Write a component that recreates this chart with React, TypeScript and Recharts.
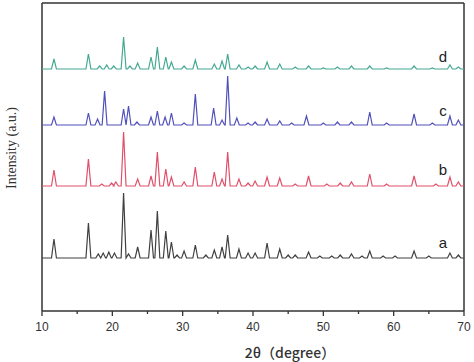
import { LineChart, Line, XAxis, YAxis, ReferenceLine, ReferenceDot } from 'recharts';

// XRD patterns: [2θ, peak height], heights above each trace's baseline
const peaksA = [
  [11.7, 19], [16.6, 35], [18.0, 4], [18.7, 5], [19.5, 6], [20.3, 5], [21.6, 65], [22.3, 4],
  [23.6, 11], [25.5, 28], [26.4, 47], [27.6, 27], [28.4, 16], [29.2, 3], [30.2, 7], [31.8, 13],
  [33.3, 3], [34.5, 8], [35.6, 11], [36.4, 23], [38.0, 9], [39.3, 5], [40.3, 5], [42.0, 15],
  [43.8, 9], [45.0, 3], [46.0, 3], [47.9, 6], [49.5, 2], [51.2, 2], [52.4, 3], [54.0, 4],
  [55.5, 2], [56.6, 7], [58.5, 2], [60.2, 2], [62.9, 7], [65.0, 2], [68.0, 5], [69.2, 3],
];
const peaksB = [
  [11.7, 16], [16.6, 27], [18.5, 2], [19.9, 3], [20.5, 4], [21.6, 54], [23.6, 7], [25.5, 10],
  [26.4, 34], [27.6, 17], [28.4, 9], [30.2, 4], [31.8, 19], [34.5, 14], [35.6, 7], [36.4, 34],
  [38.0, 7], [39.3, 3], [40.3, 5], [42.0, 9], [43.8, 8], [46.0, 2], [47.9, 10], [50.5, 2],
  [52.4, 3], [54.0, 4], [56.6, 12], [59.0, 2], [62.9, 10], [66.0, 2], [68.0, 9], [69.2, 4],
];
const peaksC = [
  [11.7, 8], [16.6, 12], [17.9, 6], [18.9, 34], [21.6, 16], [22.3, 19], [23.5, 3], [25.5, 8],
  [26.4, 14], [27.5, 8], [28.4, 12], [30.2, 2], [31.8, 31], [34.4, 17], [35.6, 5], [36.4, 49],
  [37.7, 7], [39.3, 2], [40.3, 3], [42.0, 6], [43.8, 4], [45.5, 2], [47.6, 9], [50.0, 2],
  [52.0, 3], [54.0, 3], [56.6, 13], [59.0, 2], [62.9, 11], [65.5, 2], [68.0, 9], [69.2, 5],
];
const peaksD = [
  [11.7, 10], [16.6, 15], [18.2, 3], [19.2, 4], [20.2, 3], [21.6, 32], [22.5, 3], [23.6, 6],
  [25.5, 12], [26.4, 22], [27.6, 12], [28.4, 7], [30.2, 3], [31.8, 9], [34.5, 5], [35.6, 8],
  [36.4, 15], [38.0, 4], [39.3, 2], [40.3, 3], [42.0, 7], [43.8, 5], [46.0, 2], [47.9, 3],
  [50.0, 1], [52.0, 2], [54.0, 3], [56.6, 3], [59.0, 1], [62.9, 3], [65.5, 1], [68.0, 4], [69.2, 2],
];

// vertical offsets used to stack the patterns
const baseA = 53;
const baseB = 125;
const baseC = 186;
const baseD = 242;

const xTicks = [10, 15, 20, 25, 30, 35, 40, 45, 50, 55, 60, 65, 70];
const HALF = 0.35;

function trace(peaks: number[][], base: number) {
  const pts = [{ x: 10, y: base }];
  peaks.forEach(([p, h]) => {
    pts.push({ x: p - HALF, y: base }, { x: p, y: base + h }, { x: p + HALF, y: base });
  });
  pts.push({ x: 70, y: base });
  return pts;
}

const series = [
  { name: 'a', data: trace(peaksA, baseA), color: '#404040', label: 68 },
  { name: 'b', data: trace(peaksB, baseB), color: '#e0506a', label: 141 },
  { name: 'c', data: trace(peaksC, baseC), color: '#5050bc', label: 200 },
  { name: 'd', data: trace(peaksD, baseD), color: '#45a892', label: 254 },
];

const XTick = (props: any) => {
  const { x, y, payload } = props;
  const major = payload.value % 10 === 0;
  return (
    <g>
      <line x1={x} x2={x} y1={y} y2={y + (major ? 5 : 3)} stroke="#333" strokeWidth={1.3} />
      {major && (
        <text x={x} y={y + 20} textAnchor="middle" fontSize={12} fill="#333" fontFamily="Liberation Sans, Arial">
          {payload.value}
        </text>
      )}
    </g>
  );
};

export default function App() {
  return (
    <div style={{ position: 'absolute', left: 0, top: 0, width: 474, height: 362, background: '#fff' }}>
      <LineChart width={474} height={362} margin={{ top: 3, right: 10, bottom: 21, left: 42 }}>
        <XAxis
          dataKey="x"
          type="number"
          domain={[10, 70]}
          ticks={xTicks}
          tick={<XTick />}
          tickLine={false}
          tickSize={0}
          tickMargin={0}
          height={30}
          allowDataOverflow
          axisLine={{ stroke: '#333', strokeWidth: 1.5 }}
        />
        <YAxis type="number" domain={[0, 308]} hide allowDataOverflow />
        <ReferenceLine x={10} stroke="#333" strokeWidth={1.5} />
        <ReferenceLine x={70} stroke="#333" strokeWidth={1.5} />
        <ReferenceLine y={308} stroke="#333" strokeWidth={1.5} />
        {series.map((s) => (
          <Line
            key={s.name}
            data={s.data}
            dataKey="y"
            type="linear"
            stroke={s.color}
            strokeWidth={1.2}
            dot={false}
            isAnimationActive={false}
          />
        ))}
        {series.map((s) => (
          <ReferenceDot
            key={'l' + s.name}
            x={67}
            y={s.label}
            r={0}
            fill="none"
            stroke="none"
            label={{ value: s.name, position: 'center', fontSize: 15, fill: '#222', fontFamily: 'Liberation Sans, Arial' }}
          />
        ))}
      </LineChart>
      <div
        style={{
          position: 'absolute',
          left: 12,
          top: 148,
          transform: 'translate(-50%, -50%) rotate(-90deg)',
          whiteSpace: 'nowrap',
          fontFamily: 'Liberation Serif, serif',
          fontSize: 14,
          color: '#333',
        }}
      >
        Intensity (a.u.)
      </div>
      <div
        style={{
          position: 'absolute',
          left: 290,
          top: 352,
          transform: 'translate(-50%, -50%)',
          whiteSpace: 'nowrap',
          fontFamily: 'Noto Sans CJK SC, sans-serif',
          fontWeight: 500,
          fontSize: 14,
          color: '#333',
        }}
      >
        2θ（degree）
      </div>
    </div>
  );
}
